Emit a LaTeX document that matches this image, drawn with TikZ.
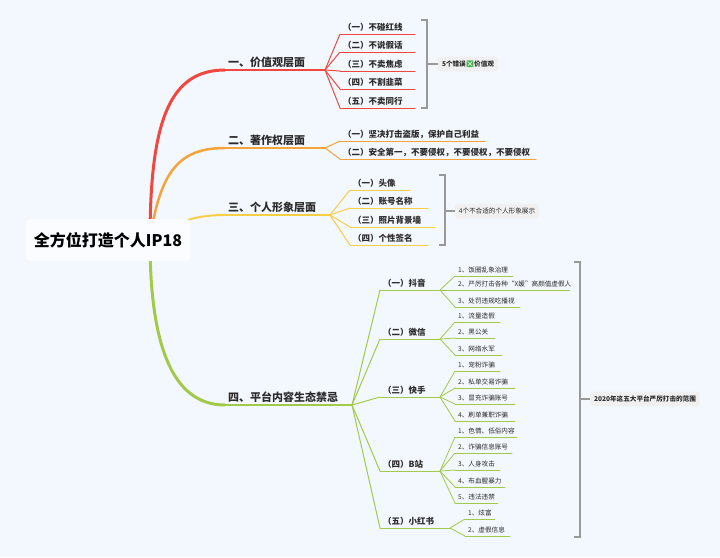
\documentclass[tikz,border=0pt]{standalone}
\usepackage{fontspec}
\setmainfont{Noto Sans CJK SC}
\newfontfamily\emo{Noto Emoji}
\usetikzlibrary{calc}
\definecolor{bgc}{HTML}{F3F8FE}
\definecolor{cred}{HTML}{F0483E}
\definecolor{cora}{HTML}{F7A23B}
\definecolor{cyel}{HTML}{F8CE45}
\definecolor{cgrn}{HTML}{A3C94A}
\definecolor{txt}{HTML}{2B2B2B}
\definecolor{emog}{HTML}{3CB043}
\tikzset{
  lbl/.style={anchor=base west,inner sep=0pt,text=txt},
  mainf/.style={font=\bfseries\fontsize{11}{12}\selectfont},
  subf/.style={font=\bfseries\fontsize{8.5}{10}\selectfont},
  leaff/.style={font=\fontsize{6.6}{8}\selectfont},
  brk/.style={draw=gray!80,line width=1.1pt},
  tag/.style={fill=gray!12,rounded corners=3pt,inner sep=4pt,text=txt,font=\bfseries\fontsize{6.6}{8}\selectfont},
}
\newcommand{\mitem}[8]{%
  \coordinate (#1s) at (#2,#4);
  \coordinate (#1e) at (#3,#4);
  \draw[#6,line width=#7,line cap=round] (#1s) -- (#1e);
  \node[lbl,#8] (#1) at ($(#1s)+(3,-4)$) {#5};
}
\newcommand{\link}[4]{%
  \draw[#3,line width=#4] (#1) .. controls ($(#1)!0.5!(#2)$ |- #1) and ($(#1)!0.5!(#2)$ |- #2) .. (#2);
}
\begin{document}
\begin{tikzpicture}[x=1pt,y=-1pt]
\fill[bgc] (0,0) rectangle (720,557);
\useasboundingbox (0,0) rectangle (720,557);
\coordinate (r) at (150,240);
\mitem{A}{225}{325}{70}{一、价值观层面}{cred}{1.6pt}{mainf}
\mitem{B}{225}{325}{148}{二、著作权层面}{cora}{1.6pt}{mainf}
\mitem{C}{225}{330}{215}{三、个人形象层面}{cyel}{1.6pt}{mainf}
\mitem{D}{225}{352}{405}{四、平台内容生态禁忌}{cgrn}{1.6pt}{mainf}
\draw[cred,line width=3pt] (r) .. controls (150,120) and (170,70) .. (As);
\draw[cora,line width=2.5pt] (r) .. controls (160,170) and (180,148) .. (Bs);
\draw[cyel,line width=2pt] (r) .. controls (170,225) and (190,215) .. (Cs);
\draw[cgrn,line width=3pt] (r) .. controls (150,340) and (170,405) .. (Ds);
\foreach \n/\y/\t in {1/34/（一）不碰红线,2/52/（二）不说假话,3/71/（三）不卖焦虑,4/89/（四）不割韭菜,5/108/（五）不卖同行}{
  \mitem{A\n}{340}{415}{\y}{\t}{cred}{1pt}{subf}
  \link{Ae}{A\n s}{cred}{1pt}
}
\draw[brk] (421,20) -- (427,20) -- (427,108) -- (421,108);
\node[tag] (At) at (468,64) {5个错误{\emo\color{emog}❎}价值观};
\draw[brk] (427,64) -- (At.west);
\mitem{B1}{340}{485}{141}{（一）坚决打击盗版，保护自己利益}{cora}{1pt}{subf}
\mitem{B2}{340}{536}{159}{（二）安全第一，不要侵权，不要侵权，不要侵权}{cora}{1pt}{subf}
\link{Be}{B1s}{cora}{1pt}
\link{Be}{B2s}{cora}{1pt}
\foreach \n/\y/\t/\w in {1/190/（一）头像/410,2/208/（二）账号名称/428,3/227/（三）照片背景墙/435,4/245/（四）个性签名/428}{
  \mitem{C\n}{350}{\w}{\y}{\t}{cyel}{1pt}{subf}
  \link{Ce}{C\n s}{cyel}{1pt}
}
\draw[brk] (439,175) -- (445,175) -- (445,245) -- (439,245);
\node[tag,font=\fontsize{6.6}{8}\selectfont] (Ct) at (497,211) {4个不合适的个人形象展示};
\draw[brk] (445,211) -- (Ct.west);
\foreach \n/\y/\t/\w in {1/290/（一）抖音/440,2/339/（二）微信/440,3/397/（三）快手/440,4/471/（四）B站/440,5/528/（五）小红书/450}{
  \mitem{D\n}{380}{\w}{\y}{\t}{cgrn}{1pt}{subf}
  \link{De}{D\n s}{cgrn}{1pt}
}
\newcommand{\lf}[6]{\mitem{#1}{#2}{#3}{#4}{#5}{cgrn}{0.8pt}{leaff}\link{#6}{#1s}{cgrn}{0.8pt}}
\lf{L11}{455}{513}{276}{1、饭圈乱象治理}{D1e}
\lf{L12}{455}{570}{290}{2、严厉打击各种“X媛”高颜值虚假人}{D1e}
\lf{L13}{455}{520}{307}{3、处罚违规吃播视}{D1e}
\lf{L21}{455}{500}{322}{1、流量造假}{D2e}
\lf{L22}{455}{495}{338}{2、黑公关}{D2e}
\lf{L23}{455}{502}{355}{3、网络水军}{D2e}
\lf{L31}{455}{500}{371}{1、宠粉诈骗}{D3e}
\lf{L32}{455}{515}{388}{2、私单交易诈骗}{D3e}
\lf{L33}{455}{515}{404}{3、冒充诈骗账号}{D3e}
\lf{L34}{455}{515}{421}{4、刷单兼职诈骗}{D3e}
\lf{L41}{455}{517}{437}{1、色情、低俗内容}{D4e}
\lf{L42}{455}{512}{453}{2、诈骗信息账号}{D4e}
\lf{L43}{455}{500}{470}{3、人身攻击}{D4e}
\lf{L44}{455}{505}{487}{4、布血腥暴力}{D4e}
\lf{L45}{455}{498}{503}{5、违法违禁}{D4e}
\lf{L51}{465}{495}{519}{1、炫富}{D5e}
\lf{L52}{465}{510}{536}{2、虚假信息}{D5e}
\draw[brk] (574,262) -- (580,262) -- (580,537) -- (574,537);
\node[tag] (Dt) at (645,399) {2020年这五大平台严厉打击的范围};
\draw[brk] (580,399) -- (Dt.west);
\node[fill=white!60!bgc,rounded corners=4pt,minimum width=165pt,minimum height=42pt,font=\bfseries\fontsize{16}{18}\selectfont,text=black] (root) at (108,240) {全方位打造个人IP18};
\end{tikzpicture}
\end{document}
